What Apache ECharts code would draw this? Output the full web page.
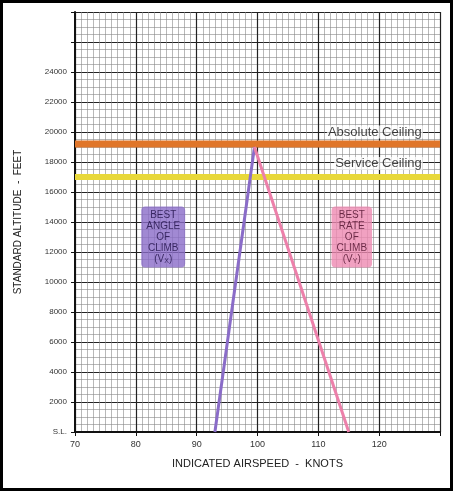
<!DOCTYPE html>
<html>
<head>
<meta charset="UTF-8">
<script src="https://cdn.jsdelivr.net/npm/echarts@6/dist/echarts.min.js"></script>
<style>
    body, html { margin: 0; padding: 0; background: #fff; }
    #main { width: 453px; height: 491px; box-sizing: border-box; border: 3px solid #000; }
</style>
</head>
<body>
<div id="main"></div>
<script>
    // data
    const xTicks = [70, 80, 90, 100, 110, 120];
    const angleLine = [[93, 0], [99.5, 19000]];   // best angle of climb (Vx)
    const rateLine = [[99.5, 19000], [115, 0]];    // best rate of climb (Vy)
    const absoluteCeiling = 19200;
    const serviceCeiling = 17000;
    const ceilingNames = ['Absolute Ceiling', 'Service Ceiling'];

    var chart = echarts.init(document.getElementById('main'));
    var font = 'Liberation Sans, Arial, sans-serif';

    var option = {
        animation: false,
        grid: { left: 72, right: 10, top: 9, bottom: 56 },
        xAxis: {
            type: 'value', min: 70, max: 130, interval: 10,
            name: 'INDICATED AIRSPEED  -  KNOTS', nameLocation: 'middle', nameGap: 26,
            nameTextStyle: { color: '#222', fontSize: 11, fontFamily: font },
            axisLine: { lineStyle: { color: '#111', width: 2 } },
            axisTick: { show: true, length: 4, lineStyle: { color: '#111' } },
            axisLabel: { color: '#333', fontSize: 9, fontFamily: font,
                formatter: v => xTicks.indexOf(v) >= 0 ? v : '' },
            splitLine: { show: true, lineStyle: { color: '#222', width: 1.2 } },
            minorTick: { show: false, splitNumber: 10 },
            minorSplitLine: { show: true, lineStyle: { color: '#888', width: 0.6 } }
        },
        yAxis: {
            type: 'value', min: 0, max: 28000, interval: 2000,
            name: 'STANDARD ALTITUDE  -  FEET', nameLocation: 'middle', nameGap: 52,
            nameTextStyle: { color: '#222', fontSize: 10, fontFamily: font },
            axisLine: { show: true, lineStyle: { color: '#111', width: 2 } },
            axisTick: { show: true, length: 4, lineStyle: { color: '#111' } },
            axisLabel: { color: '#333', fontSize: 8, fontFamily: font,
                formatter: v => v === 0 ? 'S.L.' : (v > 24000 ? '' : v) },
            splitLine: { show: true, lineStyle: { color: '#222', width: 1.2 } },
            minorTick: { show: false, splitNumber: 4 },
            minorSplitLine: { show: true, lineStyle: { color: '#888', width: 0.6 } }
        },
        series: [
            {
                type: 'line', symbol: 'none', silent: true,
                data: [[70, absoluteCeiling], [130, absoluteCeiling]],
                lineStyle: { color: '#e0762a', width: 7 }
            },
            {
                type: 'line', symbol: 'none', silent: true,
                data: [[70, serviceCeiling], [130, serviceCeiling]],
                lineStyle: { color: '#e8d83a', width: 6 }
            },
            {
                type: 'line', symbol: 'none', data: angleLine,
                lineStyle: { color: '#8a6cc8', width: 3 }
            },
            {
                type: 'line', symbol: 'none', data: rateLine,
                lineStyle: { color: '#ec80aa', width: 3 }
            },
            {
                type: 'scatter', symbolSize: 0, silent: true,
                data: [[128, absoluteCeiling + 800], [128, serviceCeiling + 900]],
                label: {
                    show: true, position: 'left', fontSize: 13, fontFamily: font, color: '#111',
                    backgroundColor: 'rgba(255,255,255,0.85)', padding: [0, 1],
                    formatter: p => ceilingNames[p.dataIndex]
                }
            },
            {
                type: 'scatter', symbolSize: 0, silent: true,
                data: [
                    { value: [84.5, 13000], label: { backgroundColor: '#8a6cc8', color: '#1e0f45',
                        formatter: 'BEST\nANGLE\nOF\nCLIMB\n(V{s|X})' } },
                    { value: [115.5, 13000], label: { backgroundColor: '#ee8ab2', color: '#4a0c28',
                        formatter: 'BEST\nRATE\nOF\nCLIMB\n(V{s|Y})' } }
                ],
                label: {
                    show: true, position: 'inside', fontSize: 10, lineHeight: 11, fontFamily: font,
                    padding: [3, 5], borderRadius: 4,
                    rich: { s: { fontSize: 7, verticalAlign: 'bottom' } }
                }
            }
        ]
    };

    chart.setOption(option);
</script>
</body>
</html>
